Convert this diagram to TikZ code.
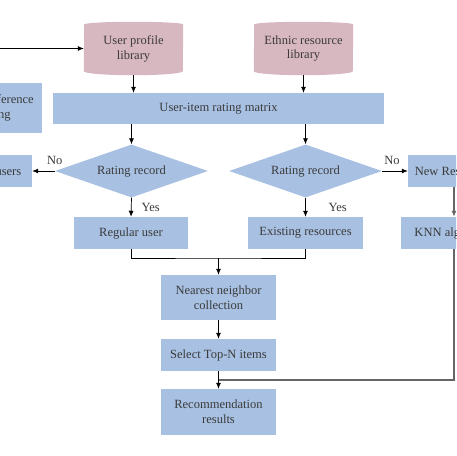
\documentclass[tikz,border=0pt]{standalone}
\usepackage{fontspec}
\setmainfont{Liberation Serif}
\usetikzlibrary{shapes.geometric,arrows.meta,backgrounds}
\definecolor{boxblue}{HTML}{A8C1E3}
\definecolor{libpink}{HTML}{D8B8C0}
\definecolor{txtgray}{HTML}{3A3A3A}
\begin{document}
\begin{tikzpicture}[x=0.3mm,y=-0.3mm,
		every node/.style={font=\fontsize{10.7}{12.8}\selectfont,text=txtgray},
		box/.style={rectangle,fill=boxblue,align=center,inner sep=0pt,minimum height=9.6mm},
		lib/.style={rectangle,align=center,inner sep=0pt,minimum width=29.7mm,minimum height=15.9mm},
		decide/.style={diamond,fill=boxblue,inner sep=0pt,aspect=2.9,minimum width=45.9mm,minimum height=15.9mm},
		flow/.style={line width=0.6pt,-{Latex[length=1.8mm,width=1.5mm]}},
		link/.style={black,line width=0.6pt},
		side/.style={black!60,line width=0.9pt},
		lab/.style={inner sep=0pt}]
	\useasboundingbox (0,0) rectangle (456,456);
	\clip (0,0) rectangle (456,456);

		\node[lib](upl) at (133.5,48.5) {User profile\\library};
		\node[lib](erl) at (303.5,48.5) {Ethnic resource\\library};
		\node[box,minimum width=99.3mm,minimum height=9.3mm](mat) at (218.5,108.5) {User-item rating matrix};
		\node[box,minimum width=33mm,minimum height=15mm](pref) at (-13,108) {Interest preference\\modeling};
		\node[decide](rr1) at (131.5,171) {Rating record};
		\node[decide](rr2) at (305.5,171) {Rating record};
		\node[box,minimum width=22.2mm](nu) at (-5,171) {New users};
		\node[box,minimum width=27.6mm](nr) at (454,171) {New Resources};
		\node[box,minimum width=34.2mm](ru) at (131,233) {Regular user};
		\node[box,minimum width=34.5mm](er) at (305.5,233) {Existing resources};
		\node[box,minimum width=32.1mm](knn) at (454,233) {KNN algorithm};
		\node[box,minimum width=34.5mm,minimum height=13.5mm](nn) at (218.5,297.5) {Nearest neighbor\\collection};
		\node[box,minimum width=34.5mm](top) at (218.5,355) {Select Top-N items};
		\node[box,minimum width=34.5mm,minimum height=13.8mm](rec) at (218.5,412) {Recommendation\\results};
		\coordinate(in) at (-30,48.5);
		\coordinate(m) at (218.5,258);
		\coordinate(k) at (218.5,380);

		\begin{scope}[on background layer]
			\foreach \l in {upl,erl}
				\fill[libpink] ([yshift=-0.8mm]\l.north east) arc[start angle=0,end angle=180,x radius=14.85mm,y radius=0.8mm]
					-- ([yshift=1.2mm]\l.south west) arc[start angle=180,end angle=360,x radius=14.85mm,y radius=1.2mm] -- cycle;
		\end{scope}

		\path [flow](in) edge node {} (upl.west);
		\path [flow](upl.south) edge node {} (upl.south |- mat.north);
		\path [flow](erl.south) edge node {} (erl.south |- mat.north);
		\path [flow](mat.south -| rr1.north) edge node {} (rr1.north);
		\path [flow](mat.south -| rr2.north) edge node {} (rr2.north);
		\path [flow](rr1.west) edge node[lab,above=1.8mm,pos=0] {No} (nu.east);
		\path [flow](rr2.east) edge node[lab,above=1.8mm,pos=0.38] {No} (nr.west);
		\path [flow](rr1.south) edge node[lab,right=3mm] {Yes} (ru.north);
		\path [flow](rr2.south) edge node[lab,right=6.8mm] {Yes} (er.north);
		\draw [link](ru.south) |- (m) -| (er.south);
		\path [flow](m) edge node {} (nn.north);
		\path [flow](nn) edge node {} (top);
		\path [flow](top) edge node {} (rec);
		\path [flow,side](nr) edge node {} (knn);
		\draw [side](knn.south) |- (k);
	\end{tikzpicture}
\end{document}
